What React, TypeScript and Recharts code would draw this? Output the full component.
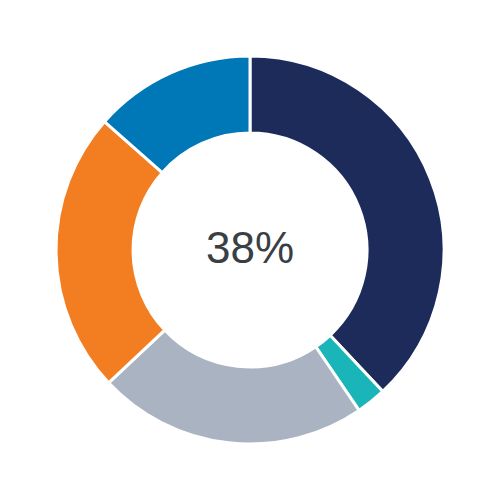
import { PieChart, Pie, Cell } from 'recharts'

const segments = ['Navy', 'Teal', 'Gray', 'Orange', 'Blue']
const values = [38, 2.5, 22.5, 23.5, 13.5]
const colors = ['#1c2b5a', '#1ab5b9', '#a9b3c1', '#f27e21', '#0077b6']
const centerLabel = '38%'

const data = segments.map((name, i) => ({ name, value: values[i] }))

export default function App() {
  return (
    <div style={{ position: 'absolute', left: 0, top: 0, width: 500, height: 500, background: '#fff' }}>
      <PieChart width={500} height={500} margin={{ top: 0, right: 0, bottom: 0, left: 0 }}>
        <Pie
          data={data}
          dataKey="value"
          nameKey="name"
          cx={250}
          cy={250}
          innerRadius={117}
          outerRadius={194}
          startAngle={90}
          endAngle={-270}
          stroke="#ffffff"
          strokeWidth={3}
          isAnimationActive={false}
        >
          {data.map((d, i) => (
            <Cell key={d.name} fill={colors[i]} />
          ))}
        </Pie>
        <text
          x={250}
          y={247}
          textAnchor="middle"
          dominantBaseline="central"
          style={{ fontFamily: '"Liberation Sans", Arial, sans-serif', fontSize: 44, fill: '#3a3f44' }}
        >
          {centerLabel}
        </text>
      </PieChart>
    </div>
  )
}
